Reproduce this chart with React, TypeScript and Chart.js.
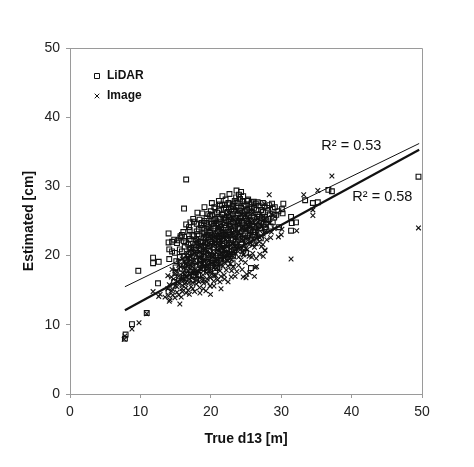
import React, { useEffect, useRef } from "react";
import { Chart, registerables } from "chart.js";

Chart.register(...registerables);

// ---------- data ----------
const seriesNames = ["LiDAR", "Image"];
const r2Labels = ["R² = 0.53", "R² = 0.58"];
const r2LabelX = [35.7, 40.1];
const r2LabelY = [35.8, 28.4];

const axisTicks = [0, 10, 20, 30, 40, 50];

// regression line end points
const lidarFitX = [7.8, 49.6];
const lidarFitY = [15.5, 36.2];
const imageFitX = [7.8, 49.6];
const imageFitY = [12.1, 35.3];

const lidarPoints: [number, number][] = [
  [7.8, 8.0], [7.9, 8.6], [8.8, 10.1], [10.9, 11.7], [9.7, 17.8], [11.8, 19.7], [11.8, 18.9], [12.6, 19.1],
  [14.1, 20.9], [14.0, 23.2], [14.5, 22.0], [14.8, 22.3], [15.3, 22.2], [16.2, 26.8], [17.1, 24.8], [15.7, 22.8],
  [16.5, 31.0], [49.5, 31.4], [14.0, 21.9], [14.5, 20.6], [14.1, 19.5], [18.7, 24.7], [19.0, 24.7], [24.3, 29.2],
  [24.6, 28.6], [24.6, 27.9], [25.8, 27.7], [26.1, 27.8], [23.2, 27.5], [21.6, 27.3], [22.0, 27.3], [28.7, 27.5],
  [30.3, 27.5], [33.4, 28.0], [34.5, 27.6], [35.2, 27.7], [36.7, 29.5], [37.2, 29.3], [31.4, 25.6], [31.5, 24.7],
  [32.1, 24.8], [31.4, 23.6], [30.2, 26.1], [30.1, 26.7], [25.7, 18.2], [12.5, 16.0], [14.0, 14.8],
  [15.0, 17.5], [15.1, 19.2], [14.9, 20.4], [15.2, 21.8], [15.0, 18.3], [14.8, 16.2],
  [15.6, 19.8], [15.7, 22.6], [15.5, 17.0], [15.6, 20.9],
  [16.2, 18.6], [16.3, 21.3], [16.1, 23.4], [16.2, 19.9], [16.4, 16.8], [16.2, 22.1],
  [16.8, 20.2], [16.7, 17.9], [16.9, 24.1], [16.8, 21.6], [16.6, 19.0], [16.9, 22.8],
  [17.3, 18.4], [17.2, 21.1], [17.4, 23.0], [17.3, 19.7], [17.5, 25.3], [17.2, 20.5], [17.4, 16.5],
  [17.9, 22.3], [17.8, 19.2], [18.0, 24.6], [17.9, 20.8], [17.7, 17.6], [18.0, 23.5], [17.8, 21.7],
  [18.4, 20.1], [18.3, 22.9], [18.5, 18.7], [18.4, 25.2], [18.6, 21.4], [18.3, 23.8], [18.5, 19.5], [18.2, 17.2],
  [18.9, 21.9], [19.0, 19.8], [18.8, 24.0], [19.1, 22.5], [18.9, 18.2], [18.8, 26.1], [19.0, 20.6], [19.1, 23.2],
  [19.4, 23.6], [19.3, 20.3], [19.5, 21.8], [19.4, 25.4], [19.6, 19.1], [19.3, 22.7], [19.5, 17.9], [19.4, 24.5],
  [19.9, 22.0], [20.0, 24.8], [19.8, 20.7], [20.1, 18.6], [19.9, 23.3], [20.0, 26.4], [19.8, 21.4], [20.1, 19.6], [19.9, 25.7],
  [20.4, 21.2], [20.5, 23.9], [20.3, 19.3], [20.4, 25.1], [20.6, 22.6], [20.3, 20.0], [20.5, 27.0], [20.4, 24.3], [20.6, 17.8],
  [20.9, 22.8], [21.0, 20.4], [20.8, 24.7], [20.9, 26.2], [21.1, 21.6], [20.8, 19.0], [21.0, 23.5], [20.9, 18.2], [21.1, 25.6],
  [21.4, 23.1], [21.5, 21.0], [21.3, 25.3], [21.4, 19.7], [21.6, 22.4], [21.3, 27.4], [21.5, 24.1], [21.4, 20.6], [21.6, 26.0],
  [21.9, 21.8], [22.0, 24.4], [21.8, 22.9], [21.9, 26.8], [22.1, 20.2], [21.8, 23.7], [22.0, 19.4], [21.9, 25.5], [22.1, 28.1],
  [22.4, 22.5], [22.5, 24.9], [22.3, 20.9], [22.4, 26.3], [22.6, 23.4], [22.3, 21.5], [22.5, 27.6], [22.4, 19.8], [22.6, 25.2],
  [22.9, 23.8], [23.0, 21.3], [22.8, 25.8], [22.9, 22.2], [23.1, 27.2], [22.8, 24.6], [23.0, 20.5], [22.9, 26.7], [23.1, 18.9],
  [23.4, 24.2], [23.5, 22.0], [23.3, 26.5], [23.4, 23.1], [23.6, 28.4], [23.3, 20.8], [23.5, 25.4], [23.4, 27.9],
  [23.9, 22.7], [24.0, 25.0], [23.8, 27.1], [23.9, 23.9], [24.1, 21.2], [23.8, 26.1], [24.0, 28.8], [23.9, 24.5],
  [24.4, 24.8], [24.5, 22.4], [24.3, 26.9], [24.4, 23.5], [24.6, 25.7], [24.3, 21.6], [24.5, 27.8],
  [24.9, 23.2], [25.0, 25.5], [24.8, 27.4], [24.9, 24.0], [25.1, 22.1], [24.8, 26.4], [25.0, 20.4],
  [25.4, 24.6], [25.5, 26.8], [25.3, 22.9], [25.4, 25.9], [25.6, 23.7], [25.3, 28.1],
  [25.9, 25.2], [26.0, 23.4], [25.8, 27.0], [25.9, 24.3], [26.1, 21.8], [25.8, 26.2],
  [26.4, 24.9], [26.5, 26.6], [26.3, 23.0], [26.4, 27.5], [26.6, 25.6],
  [26.9, 25.8], [27.0, 23.9], [26.8, 27.2], [26.9, 24.4], [27.1, 22.5],
  [27.4, 26.3], [27.5, 24.6], [27.3, 25.4], [27.4, 27.6],
  [27.9, 25.1], [28.0, 26.9], [27.8, 23.8],
  [28.4, 26.0], [28.5, 24.2], [28.3, 27.3],
  [29.0, 25.5], [29.1, 27.0], [29.6, 26.4], [29.7, 24.1],
  [15.9, 18.1], [15.9, 20.6], [15.9, 23.0],
  [16.5, 17.4], [16.5, 19.4], [16.5, 21.9], [16.5, 24.5],
  [17.0, 18.9], [17.0, 20.9], [17.0, 22.4], [17.0, 23.7],
  [17.6, 17.0], [17.6, 19.9], [17.6, 21.3], [17.6, 22.8], [17.6, 24.9],
  [18.1, 18.0], [18.1, 20.4], [18.1, 21.9], [18.1, 23.1], [18.1, 26.2],
  [18.6, 19.3], [18.6, 20.9], [18.6, 22.0], [18.6, 24.4], [18.6, 16.5],
  [19.1, 18.9], [19.1, 21.2], [19.1, 23.9], [19.1, 25.0], [19.1, 27.0],
  [19.65, 20.1], [19.65, 22.3], [19.65, 23.0], [19.65, 24.1], [19.65, 26.0], [19.65, 18.3],
  [20.15, 19.0], [20.15, 21.7], [20.15, 22.9], [20.15, 24.6], [20.15, 25.9], [20.15, 27.6],
  [20.65, 20.0], [20.65, 21.9], [20.65, 23.1], [20.65, 24.0], [20.65, 25.3], [20.65, 26.8], [20.65, 18.7],
  [21.15, 19.4], [21.15, 22.0], [21.15, 22.9], [21.15, 24.5], [21.15, 26.5], [21.15, 27.9], [21.15, 21.2],
  [21.65, 20.8], [21.65, 22.1], [21.65, 23.3], [21.65, 24.8], [21.65, 25.9], [21.65, 28.6],
  [22.15, 21.1], [22.15, 22.9], [22.15, 24.0], [22.15, 25.1], [22.15, 26.9], [22.15, 19.6],
  [22.65, 21.8], [22.65, 23.0], [22.65, 24.3], [22.65, 25.5], [22.65, 27.4], [22.65, 20.2], [22.65, 28.9],
  [23.15, 22.3], [23.15, 23.6], [23.15, 24.8], [23.15, 26.0], [23.15, 27.0], [23.15, 19.9],
  [23.65, 21.6], [23.65, 23.2], [23.65, 24.9], [23.65, 25.8], [23.65, 27.6], [23.65, 29.4],
  [24.15, 22.9], [24.15, 24.0], [24.15, 25.4], [24.15, 26.5], [24.15, 28.2],
  [24.65, 23.8], [24.65, 24.7], [24.65, 26.1], [24.65, 27.1], [24.65, 21.0],
  [25.15, 22.6], [25.15, 24.2], [25.15, 25.0], [25.15, 26.6], [25.15, 27.9],
  [25.65, 23.9], [25.65, 25.0], [25.65, 26.4], [25.65, 27.4], [25.65, 22.2],
  [26.15, 24.1], [26.15, 25.5], [26.15, 26.9], [26.15, 23.0],
  [26.65, 24.3], [26.65, 26.0], [26.65, 27.7],
  [27.15, 24.9], [27.15, 26.6], [27.15, 23.3],
  [27.65, 25.6], [27.65, 24.1], [27.65, 27.1],
  [28.15, 25.3], [28.15, 26.5], [28.8, 24.8], [28.8, 26.8], [29.3, 25.9],
];

const imagePoints: [number, number][] = [
  [7.7, 7.9], [7.8, 8.4], [8.8, 9.4], [9.8, 10.3], [10.9, 11.6], [11.8, 14.8], [12.6, 14.1], [12.8, 14.4],
  [15.6, 13.0], [49.5, 24.0], [31.4, 19.5], [37.2, 31.5], [35.2, 29.4], [33.2, 28.8], [34.5, 26.6], [34.5, 25.8],
  [32.2, 23.6], [30.1, 23.8], [30.0, 23.0], [29.6, 22.7], [28.3, 28.8], [19.9, 15.6], [24.6, 16.9], [25.1, 17.3],
  [26.2, 17.0], [26.5, 18.4], [27.2, 21.3], [27.7, 20.7], [24.9, 19.0], [24.6, 20.1], [27.6, 27.5],
  [13.5, 14.0], [14.2, 13.6], [13.9, 15.2],
  [14.0, 14.2], [14.1, 15.8], [13.9, 17.1], [14.1, 13.4],
  [14.6, 15.1], [14.7, 16.6], [14.5, 18.0], [14.6, 14.3],
  [15.2, 14.7], [15.3, 16.2], [15.1, 17.8], [15.2, 15.5], [15.4, 19.1],
  [15.8, 16.9], [15.9, 15.2], [15.7, 18.4], [15.8, 14.0], [16.0, 17.5],
  [16.3, 15.9], [16.4, 17.3], [16.2, 19.0], [16.3, 16.5], [16.5, 14.6], [16.2, 18.2],
  [16.8, 17.8], [16.9, 16.1], [16.7, 19.6], [16.8, 15.0], [17.0, 18.7], [16.7, 20.3],
  [17.3, 16.8], [17.4, 18.4], [17.2, 15.5], [17.3, 19.9], [17.5, 17.4], [17.2, 21.0],
  [17.8, 18.0], [17.9, 16.4], [17.7, 19.3], [17.8, 20.6], [18.0, 17.1], [17.7, 14.8], [17.9, 21.7],
  [18.3, 17.6], [18.4, 19.0], [18.2, 20.9], [18.3, 16.2], [18.5, 18.5], [18.2, 22.2], [18.4, 15.4],
  [18.8, 18.9], [18.9, 17.2], [18.7, 20.2], [18.8, 21.5], [19.0, 16.0], [18.7, 19.6], [18.9, 23.0],
  [19.3, 19.4], [19.4, 17.9], [19.2, 21.0], [19.3, 22.4], [19.5, 16.6], [19.2, 18.6], [19.4, 20.5], [19.3, 14.9],
  [19.8, 18.3], [19.9, 20.0], [19.7, 21.8], [19.8, 17.0], [20.0, 22.9], [19.7, 19.2], [19.9, 15.6], [19.8, 24.0],
  [20.3, 19.8], [20.4, 21.3], [20.2, 17.6], [20.3, 23.2], [20.5, 18.8], [20.2, 20.6], [20.4, 16.3], [20.3, 22.3],
  [20.8, 20.4], [20.9, 18.2], [20.7, 22.0], [20.8, 19.5], [21.0, 23.8], [20.7, 17.1], [20.9, 21.2], [20.8, 25.0],
  [21.3, 19.0], [21.4, 21.6], [21.2, 23.0], [21.3, 17.8], [21.5, 20.3], [21.2, 24.4], [21.4, 22.3], [21.3, 16.2],
  [21.8, 20.8], [21.9, 22.6], [21.7, 18.5], [21.8, 24.9], [22.0, 19.7], [21.7, 21.9], [21.9, 17.2], [21.8, 23.5],
  [22.3, 21.4], [22.4, 19.3], [22.2, 23.3], [22.3, 20.4], [22.5, 25.4], [22.2, 17.9], [22.4, 22.5],
  [22.8, 20.1], [22.9, 22.8], [22.7, 24.1], [22.8, 18.8], [23.0, 21.7], [22.7, 26.0], [22.9, 16.9],
  [23.3, 21.9], [23.4, 23.6], [23.2, 19.9], [23.3, 25.2], [23.5, 22.6], [23.2, 18.4],
  [23.8, 22.4], [23.9, 20.6], [23.7, 24.6], [23.8, 21.3], [24.0, 26.3], [23.7, 17.7],
  [24.3, 23.0], [24.4, 21.1], [24.2, 25.1], [24.3, 19.4], [24.5, 22.2],
  [24.8, 21.8], [24.9, 23.7], [24.7, 20.2], [24.8, 24.9], [25.0, 16.8],
  [25.3, 22.6], [25.4, 24.3], [25.2, 20.9], [25.3, 25.6], [25.5, 17.5],
  [25.8, 23.3], [25.9, 21.5], [25.7, 24.8], [25.8, 19.8],
  [26.3, 22.9], [26.4, 24.5], [26.2, 21.2], [26.3, 18.3],
  [26.8, 23.8], [26.9, 22.0], [26.7, 25.3],
  [27.3, 24.2], [27.4, 21.6], [27.2, 22.8],
  [27.8, 23.5], [27.9, 25.0], [27.7, 20.8],
  [28.4, 24.7], [28.5, 22.6], [29.0, 23.9], [29.1, 25.6],
  [14.4, 14.9], [14.4, 16.9],
  [14.9, 15.6], [14.9, 13.9], [14.9, 17.3],
  [15.45, 16.0], [15.45, 14.3], [15.45, 17.0], [15.45, 18.6],
  [15.95, 15.7], [15.95, 16.3], [15.95, 19.5], [15.95, 14.8],
  [16.45, 17.0], [16.45, 15.3], [16.45, 18.8], [16.45, 16.1], [16.45, 20.0],
  [16.95, 16.6], [16.95, 18.2], [16.95, 17.3], [16.95, 19.2], [16.95, 14.4],
  [17.45, 17.8], [17.45, 16.1], [17.45, 19.0], [17.45, 20.6], [17.45, 15.2],
  [17.95, 17.5], [17.95, 18.8], [17.95, 15.9], [17.95, 20.1], [17.95, 22.1],
  [18.45, 18.1], [18.45, 16.8], [18.45, 19.6], [18.45, 20.5], [18.45, 21.4], [18.45, 14.6],
  [18.95, 17.8], [18.95, 19.2], [18.95, 20.7], [18.95, 22.0], [18.95, 16.5], [18.95, 15.2],
  [19.45, 18.3], [19.45, 19.9], [19.45, 21.5], [19.45, 16.2], [19.45, 23.1], [19.45, 17.5],
  [19.95, 19.1], [19.95, 20.4], [19.95, 21.1], [19.95, 17.6], [19.95, 22.5], [19.95, 16.8], [19.95, 14.4],
  [20.45, 18.3], [20.45, 20.1], [20.45, 21.8], [20.45, 22.7], [20.45, 17.1], [20.45, 15.6],
  [20.95, 19.0], [20.95, 20.8], [20.95, 21.7], [20.95, 22.9], [20.95, 16.5], [20.95, 24.2],
  [21.45, 18.6], [21.45, 20.0], [21.45, 21.2], [21.45, 22.8], [21.45, 24.0], [21.45, 17.0], [21.45, 15.2],
  [21.95, 19.0], [21.95, 20.3], [21.95, 21.2], [21.95, 23.0], [21.95, 25.6], [21.95, 16.6],
  [22.45, 18.5], [22.45, 20.0], [22.45, 21.9], [22.45, 22.9], [22.45, 24.4], [22.45, 16.2], [22.45, 26.3],
  [22.95, 19.4], [22.95, 21.2], [22.95, 23.3], [22.95, 25.1], [22.95, 17.8],
  [23.45, 20.4], [23.45, 21.4], [23.45, 22.9], [23.45, 24.2], [23.45, 17.0], [23.45, 26.7],
  [23.95, 19.8], [23.95, 21.8], [23.95, 23.4], [23.95, 25.5], [23.95, 18.6],
  [24.45, 20.6], [24.45, 22.4], [24.45, 24.0], [24.45, 26.0], [24.45, 18.0],
  [24.95, 21.0], [24.95, 22.5], [24.95, 23.9], [24.95, 25.8],
  [25.45, 21.6], [25.45, 23.3], [25.45, 19.9], [25.45, 24.9],
  [25.95, 22.4], [25.95, 20.3], [25.95, 24.0], [25.95, 26.2],
  [26.45, 21.7], [26.45, 23.6], [26.45, 25.1], [26.45, 19.6],
  [26.95, 22.6], [26.95, 24.5], [26.95, 20.2],
  [27.45, 23.1], [27.45, 25.6], [27.45, 19.9],
  [27.95, 22.3], [27.95, 24.3], [28.6, 23.4], [28.6, 26.0],
];

const FONT = "'Liberation Sans', Arial, Helvetica, sans-serif";
const AXIS_GREY = "#9a9a9a";

const framePlugin = {
  id: "frameAndText",
  afterDatasetsDraw(chart: any) {
    const { ctx, chartArea, scales } = chart;
    ctx.save();
    // frame
    ctx.strokeStyle = AXIS_GREY;
    ctx.lineWidth = 1;
    ctx.beginPath();
    ctx.moveTo(chartArea.left, chartArea.top + 0.5);
    ctx.lineTo(chartArea.right + 0.5, chartArea.top + 0.5);
    ctx.lineTo(chartArea.right + 0.5, chartArea.bottom);
    ctx.stroke();
    // R² labels
    ctx.fillStyle = "#111";
    ctx.font = `14.5px ${FONT}`;
    ctx.textBaseline = "middle";
    ctx.textAlign = "left";
    r2Labels.forEach((t, i) => {
      ctx.fillText(t, scales.x.getPixelForValue(r2LabelX[i]), scales.y.getPixelForValue(r2LabelY[i]));
    });
    // legend
    const lx = chartArea.left + 27;
    const ly = chartArea.top + 28;
    seriesNames.forEach((name, i) => {
      const y = ly + i * 20;
      ctx.strokeStyle = "#111";
      ctx.lineWidth = 1;
      ctx.beginPath();
      if (i === 0) {
        ctx.rect(lx - 2.5, y - 2.5, 5, 5);
      } else {
        ctx.moveTo(lx - 2.3, y - 2.3);
        ctx.lineTo(lx + 2.3, y + 2.3);
        ctx.moveTo(lx - 2.3, y + 2.3);
        ctx.lineTo(lx + 2.3, y - 2.3);
      }
      ctx.stroke();
      ctx.fillStyle = "#111";
      ctx.font = `bold 12px ${FONT}`;
      ctx.textBaseline = "middle";
      ctx.fillText(name, lx + 10, y);
    });
    ctx.restore();
  },
};

export default function App() {
  const ref = useRef<HTMLCanvasElement | null>(null);

  useEffect(() => {
    document.body.style.margin = "0";
    const canvas = ref.current!;
    const chart = new Chart(canvas, {
      type: "scatter",
      data: {
        datasets: [
          {
            label: "LiDAR fit",
            type: "line",
            data: lidarFitX.map((x, i) => ({ x, y: lidarFitY[i] })),
            borderColor: "#111",
            borderWidth: 1,
            pointRadius: 0,
            fill: false,
            order: 0,
          },
          {
            label: "Image fit",
            type: "line",
            data: imageFitX.map((x, i) => ({ x, y: imageFitY[i] })),
            borderColor: "#111",
            borderWidth: 2.2,
            pointRadius: 0,
            fill: false,
            order: 0,
          },
          {
            label: seriesNames[0],
            data: lidarPoints.map(([x, y]) => ({ x, y })),
            pointStyle: "rect",
            pointRadius: 3.4,
            borderColor: "#111",
            backgroundColor: "rgba(255,255,255,0)",
            borderWidth: 1.1,
            order: 2,
          },
          {
            label: seriesNames[1],
            data: imagePoints.map(([x, y]) => ({ x, y })),
            pointStyle: "crossRot",
            pointRadius: 3.3,
            borderColor: "#111",
            backgroundColor: "#111",
            borderWidth: 1.1,
            order: 1,
          },
        ],
      },
      options: {
        animation: false,
        responsive: false,
        devicePixelRatio: 1,
        layout: { padding: { left: 0, top: 48, right: 52, bottom: 0 } },
        plugins: { legend: { display: false }, tooltip: { enabled: false } },
        scales: {
          x: {
            type: "linear",
            min: axisTicks[0],
            max: axisTicks[axisTicks.length - 1],
            afterBuildTicks: (s: any) => {
              s.ticks = axisTicks.map((v) => ({ value: v }));
            },
            afterFit: (s: any) => {
              s.height = 73;
            },
            ticks: { font: { family: FONT, size: 14 }, color: "#222", padding: 6, maxRotation: 0 },
            grid: { drawOnChartArea: false, tickLength: 4, color: AXIS_GREY },
            border: { color: AXIS_GREY, width: 1 },
            title: {
              display: true,
              text: "True d13 [m]",
              font: { family: FONT, size: 14, weight: "bold" },
              color: "#111",
              padding: { top: 0, bottom: 19 },
            },
          },
          y: {
            type: "linear",
            min: axisTicks[0],
            max: axisTicks[axisTicks.length - 1],
            afterBuildTicks: (s: any) => {
              s.ticks = axisTicks.map((v) => ({ value: v }));
            },
            afterFit: (s: any) => {
              s.width = 70;
            },
            ticks: { font: { family: FONT, size: 14 }, color: "#222", padding: 6 },
            grid: { drawOnChartArea: false, tickLength: 4, color: AXIS_GREY },
            border: { color: AXIS_GREY, width: 1 },
            title: {
              display: true,
              text: "Estimated [cm]",
              font: { family: FONT, size: 14, weight: "bold" },
              color: "#111",
              padding: { top: 21, bottom: 0 },
            },
          },
        },
      } as any,
      plugins: [framePlugin],
    });
    return () => chart.destroy();
  }, []);

  return (
    <div style={{ position: "absolute", left: 0, top: 0, width: 474, height: 467, background: "#fff" }}>
      <canvas ref={ref} width={474} height={467} style={{ width: 474, height: 467 }} />
    </div>
  );
}
